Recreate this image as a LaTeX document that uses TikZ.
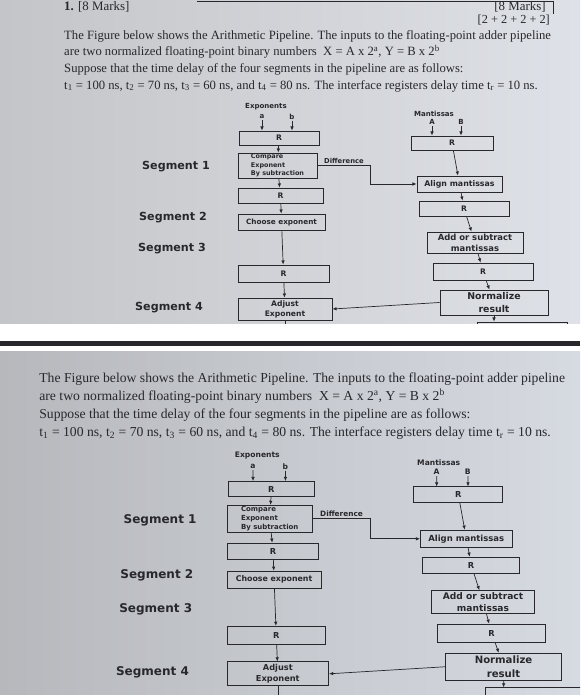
\documentclass[tikz,border=0pt]{standalone}
\usepackage{fontspec}
\setmainfont{Liberation Serif}
\newfontfamily\diagfont{DejaVu Sans}
\usetikzlibrary{arrows.meta,positioning,calc}
\definecolor{ink}{RGB}{40,40,44}
\definecolor{paperL}{RGB}{196,197,200}
\definecolor{paperR}{RGB}{222,225,231}
\definecolor{paperLb}{RGB}{182,184,188}
\definecolor{paperRb}{RGB}{214,218,225}

\begin{document}
\begin{tikzpicture}[x=0.03cm, y=-0.03cm,
  prose/.style={align=left, inner sep=0pt, text=ink, font=\fontsize{10.8}{14.2}\selectfont},
  lbl/.style={inner sep=1pt, text=ink, font=\diagfont\bfseries\fontsize{6}{7}\selectfont},
  seg/.style={inner sep=0pt, text=ink, font=\diagfont\bfseries\fontsize{9.5}{11}\selectfont},
  stage/.style={draw=ink, line width=0.7pt, inner sep=0pt, align=center, text=ink, font=\diagfont\bfseries\fontsize{6.5}{8.5}\selectfont},
  conn/.style={-{Latex[length=3.5pt,width=3pt]}, line width=0.6pt, draw=ink}]
  \useasboundingbox (0,0) rectangle (580,700);
  \fill[white] (0,0) rectangle (580,700);
  % the two photographed sheets
  \fill[left color=paperL, right color=paperR] (0,0) rectangle (580,323);
  \fill[ink] (0,341) rectangle (580,346);
  \fill[left color=paperLb, right color=paperRb] (0,351) rectangle (580,694);

  % header of the first sheet
  \node[prose, anchor=west, font=\fontsize{11}{13}\selectfont] (qno) at (64,7) {\textbf{1.} [8 Marks]};
  \node[prose, font=\fontsize{11}{13}\selectfont] (marks) at (520,7) {[8 Marks]};
  \draw[ink, line width=0.8pt] (197,1.5) -- (553,1.5) -- (553,14);
  \node[prose, anchor=east, font=\fontsize{10.5}{12}\selectfont] (split) at (550,20) {[2 + 2 + 2 + 2]};

  \foreach \pn/\dx/\dy/\sc/\ya/\yb in {top/0/0/1/0/323, bot/-30/340/1.08/351/694}{
    \begin{scope}
      \clip (0,\ya) rectangle (580,\yb);
      \begin{scope}[shift={(\dx,\dy)}, scale=\sc, transform shape, name prefix=\pn-]
        \node[prose, anchor=west] (q) at (64,61) {The Figure below shows the Arithmetic Pipeline. The inputs to the floating-point adder pipeline\\
          are two normalized floating-point binary numbers\ \ X = A x 2\textsuperscript{a}, Y = B x 2\textsuperscript{b}\\
          Suppose that the time delay of the four segments in the pipeline are as follows:\\
          t\textsubscript{1} = 100 ns, t\textsubscript{2} = 70 ns, t\textsubscript{3} = 60 ns, and t\textsubscript{4} = 80 ns. The interface registers delay time t\textsubscript{r} = 10 ns.};
        % segment names
        \node[seg] (s1) at (176,167) {Segment 1};
        \node[seg] (s2) at (173,218) {Segment 2};
        \node[seg] (s3) at (172,249) {Segment 3};
        \node[seg] (s4) at (169,308) {Segment 4};
        % exponent path
        \node[lbl] (expo) at (266,107) {Exponents};
        \node[lbl] (ina) at (262,117) {a};
        \node[lbl] (inb) at (292,117) {b};
        \node[stage, minimum width=2.4cm, minimum height=0.42cm] (er1) at (279,138) {R};
        \node[stage, minimum width=2.37cm, minimum height=0.75cm, align=left, font=\diagfont\bfseries\fontsize{5.5}{7.2}\selectfont] (cmp) at (277.5,165.5) {Compare\\Exponent\\By subtraction};
        \node[stage, minimum width=2.55cm, minimum height=0.45cm] (er2) at (280.5,195.5) {R};
        \node[stage, minimum width=2.61cm, minimum height=0.48cm, font=\diagfont\bfseries\fontsize{6.2}{7.5}\selectfont] (cho) at (281.5,222) {Choose exponent};
        \node[stage, minimum width=2.73cm, minimum height=0.51cm] (er3) at (283.5,273.5) {R};
        \node[stage, minimum width=2.82cm, minimum height=0.66cm] (adj) at (285,309) {Adjust\\Exponent};
        % mantissa path
        \node[lbl] (mant) at (434,114) {Mantissas};
        \node[lbl] (inA) at (432,122) {A};
        \node[lbl] (inB) at (461,122) {B};
        \node[stage, minimum width=2.46cm, minimum height=0.42cm] (mr1) at (452,143) {R};
        \node[stage, minimum width=2.55cm, minimum height=0.48cm, font=\diagfont\bfseries\fontsize{6.7}{8}\selectfont] (aln) at (459.5,184) {Align mantissas};
        \node[stage, minimum width=2.7cm, minimum height=0.45cm] (mr2) at (464,208.5) {R};
        \node[stage, minimum width=2.88cm, minimum height=0.63cm, font=\diagfont\bfseries\fontsize{7.2}{9.4}\selectfont] (add) at (475,242.5) {Add or subtract\\mantissas};
        \node[stage, minimum width=3cm, minimum height=0.51cm] (mr3) at (483,271.5) {R};
        \node[stage, minimum width=3.24cm, minimum height=0.75cm, font=\diagfont\bfseries\fontsize{8}{11}\selectfont] (nrm) at (494,302.5) {Normalize\\result};
        \node[stage, minimum width=2.7cm, minimum height=0.54cm] (nxt) at (522,331) {};
        \node[lbl, font=\diagfont\bfseries\fontsize{5.8}{7}\selectfont] (diff) at (344,161) {Difference};

        \draw[conn] (ina) -- (ina |- er1.north);
        \draw[conn] (inb) -- (inb |- er1.north);
        \draw[conn] (er1) -- (cmp);
        \draw[conn] (cmp) -- (er2);
        \draw[conn] (er2) -- (cho);
        \draw[conn] (cho) -- (er3);
        \draw[conn] (er3) -- (adj);
        \draw[ink, line width=0.6pt] (adj.south) -- ++(0,12);
        \draw[conn] (inA) -- (inA |- mr1.north);
        \draw[conn] (inB) -- (inB |- mr1.north);
        \draw[conn] (mr1) -- (aln);
        \draw[conn] (aln) -- (mr2);
        \draw[conn] (mr2) -- (add);
        \draw[conn] (add) -- (mr3);
        \draw[conn] (mr3) -- (nrm);
        \draw[conn] (nrm) -- (nrm |- nxt.north);
        \draw[conn] (cmp.east) -- ++(53,0) |- (aln.west);
        \draw[conn] (nrm.west) -- (adj.east);
      \end{scope}
    \end{scope}
  }
\end{tikzpicture}
\end{document}
